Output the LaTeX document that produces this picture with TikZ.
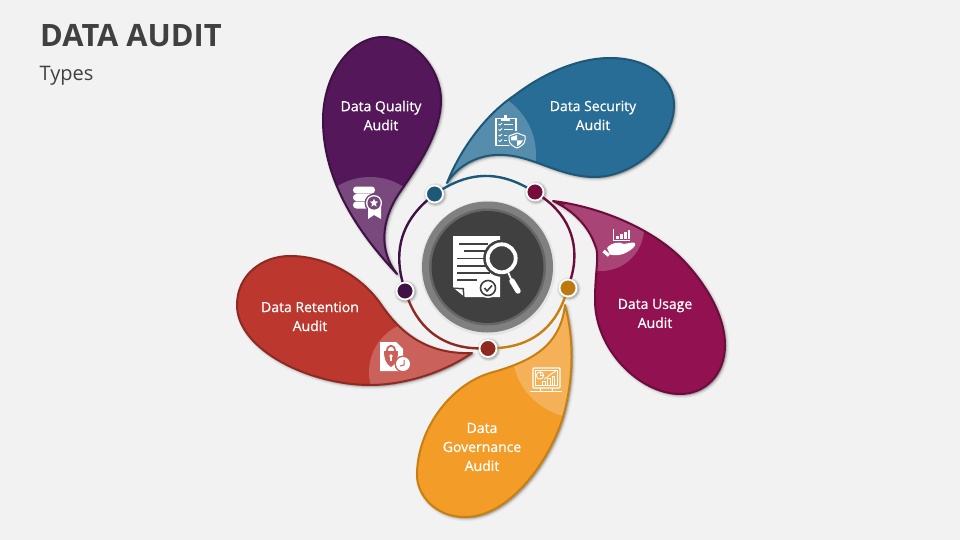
\documentclass[tikz,border=0pt]{standalone}
\usepackage{fontspec}
\setmainfont{Open Sans}
\newfontfamily\lab[FakeBold=0.7]{Open Sans}
\usetikzlibrary{shapes.geometric}
\definecolor{bg}{HTML}{F2F2F2}
\definecolor{ink}{HTML}{404040}
\definecolor{pf}{HTML}{54175A}\definecolor{pd}{HTML}{3F1144}\definecolor{po}{HTML}{754679}
\definecolor{bf}{HTML}{276D95}\definecolor{bd}{HTML}{1D5877}\definecolor{bo}{HTML}{5A8FAD}
\definecolor{mf}{HTML}{921150}\definecolor{md}{HTML}{6E0D3C}\definecolor{mo}{HTML}{A93F75}
\definecolor{of}{HTML}{F39C28}\definecolor{od}{HTML}{C67F10}\definecolor{oo}{HTML}{E8A850}
\definecolor{rf}{HTML}{BC372D}\definecolor{rd}{HTML}{8F2A22}\definecolor{ro}{HTML}{CC5F57}
\tikzset{
  lbl/.style={text=white,align=center,font=\lab\fontsize{14}{19}\selectfont,inner sep=0},
  dot/.style={circle,draw=white,line width=1.8pt,minimum size=17pt,inner sep=0},
  ringarc/.style={line width=2.4pt},
  ic/.style={white,line width=1.2pt},
}
\newcommand\petal[6]{%
  \begin{scope}[shift={(1.5,1.5)}]
    \path[draw=black,fill=black,line width=6pt,opacity=.03,line join=round] #1;
    \path[draw=black,fill=black,line width=4pt,opacity=.05,line join=round] #1;
    \path[draw=black,fill=black,line width=2pt,opacity=.10,line join=round] #1;
  \end{scope}
  \path[fill=#2] #1;
  \begin{scope}\clip #1; \fill[white,opacity=.22] #4 circle (#5); \end{scope}
  \path[draw=#3,line width=2pt,line join=round] #1;
}
\newcommand\softdot[2]{%
  \fill[black,opacity=.05] (#1+1,#2+1) circle (12);
  \fill[black,opacity=.08] (#1+1,#2+1) circle (11);
  \fill[black,opacity=.12] (#1+1,#2+1) circle (10);
}
\begin{document}
\begin{tikzpicture}[x=1pt,y=-1pt]
\useasboundingbox (0,0) rectangle (960,540);
\fill[bg] (0,0) rectangle (960,540);
% titles
\node[anchor=west,inner sep=0,text=ink,font=\bfseries\fontsize{30.8}{36}\selectfont] (title) at (40,35.5) {DATA AUDIT};
\node[anchor=west,inner sep=0,text=ink,font=\fontsize{20}{24}\selectfont] (sub) at (39.5,76) {Types};
% petals
\petal{(397,274) .. controls (370,245) and (323,190) .. (323,120) .. controls (323,75) and (350,37) .. (383,37) .. controls (415,37) and (441,70) .. (441,100) .. controls (441,135) and (415,170) .. (398,195) .. controls (382,220) and (378,250) .. (397,274) -- cycle}{pf}{pd}{(370,239)}{62}{}
\petal{(447,183) .. controls (460,150) and (485,115) .. (515,95) .. controls (545,72) and (580,58) .. (610,58) .. controls (650,58) and (674,80) .. (674,105) .. controls (674,145) and (630,177) .. (595,177) .. controls (560,177) and (535,157) .. (505,155) .. controls (480,153) and (458,165) .. (447,183) -- cycle}{bf}{bd}{(469,155)}{67}{}
\petal{(553,201) .. controls (600,207) and (650,228) .. (680,257) .. controls (705,282) and (725,315) .. (725,345) .. controls (725,375) and (705,394) .. (680,394) .. controls (640,394) and (595,350) .. (595,300) .. controls (595,270) and (600,255) .. (595,245) .. controls (588,225) and (572,210) .. (553,201) -- cycle}{mf}{md}{(601,228)}{43}{}
\petal{(565,305) .. controls (573,335) and (575,375) .. (563,417) .. controls (550,460) and (510,517) .. (465,517) .. controls (435,517) and (417,495) .. (417,475) .. controls (417,430) and (450,385) .. (490,373) .. controls (525,363) and (560,350) .. (565,305) -- cycle}{of}{od}{(580,350)}{68}{}
\petal{(472,353) .. controls (440,375) and (400,385) .. (370,385) .. controls (310,385) and (237,350) .. (237,305) .. controls (237,275) and (262,256) .. (290,256) .. controls (325,256) and (360,275) .. (380,303) .. controls (395,325) and (420,355) .. (472,353) -- cycle}{rf}{rd}{(420,372)}{51}{}
% labels
\node[lbl] (t1) at (381,115.5) {Data Quality\\Audit};
\node[lbl] (t2) at (593,115.5) {Data Security\\Audit};
\node[lbl] (t3) at (655,313.5) {Data Usage\\Audit};
\node[lbl] (t4) at (482,447) {Data\\Governance\\Audit};
\node[lbl] (t5) at (310,316.5) {Data Retention\\Audit};
% centre disc
\fill[black,opacity=.05] (488,268) circle (67.5);
\fill[color=black!50] (487.5,267) circle (65.5);
\fill[color=black!60] (487.5,267) circle (58.5);
\fill[ink] (487.5,267) circle (56);
% central icon
\fill[white] (453,236) -- (500,236) -- (500,297) -- (465,297) -- (453,287) -- cycle;
\fill[ink] (453,287.5) -- (464.5,297) -- (464,288) -- cycle;
\fill[white] (455,289) -- (462.5,289.5) -- (463,295.5) -- cycle;
\foreach \xa/\xb/\yy in {459/488/244,464/488/251,457/487/258.5,457/487/266,457/490/273,457/477/280}
  \draw[ink,line width=1.8pt] (\xa,\yy) -- (\xb,\yy);
\fill[ink] (501.7,258.3) circle (18.5);
\draw[white,line width=3.8pt,fill=ink] (501.7,258.3) circle (14);
\draw[white,line width=1.8pt] (508,272) -- (511,279);
\draw[white,line width=5.4pt,line cap=round] (512,281) -- (518,291);
\fill[white] (488,288) circle (10);
\draw[ink,line width=1.6pt] (488,288) circle (7.5);
\draw[ink,line width=1.6pt] (484.5,288) -- (487,291) -- (492,285.5);
% icon: database
\foreach \yy in {186.5,194,201.5}
  \fill[white,rounded corners=3.4pt] (353,\yy) rectangle (375,\yy+7);
\fill[po] (374,203) circle (9.5);
\fill[white] (368,206) -- (368,219) -- (374,215) -- (381,219) -- (381,206) -- cycle;
\fill[white] (374,203) circle (8);
\fill[po] (374,203) circle (6.6);
\node[star,star points=5,star point ratio=2.3,fill=white,minimum size=9pt,inner sep=0] (st) at (374,203) {};
% icon: clipboard
\draw[ic,line join=round] (501,118.5) -- (496,118.5) -- (496,145.5) -- (511,145.5);
\draw[ic] (510,118.5) -- (516,118.5) -- (516,131);
\fill[white] (501,118) rectangle (510,121);
\fill[white] (504,115.5) rectangle (507,118);
\foreach \yy in {124,129.5,135,140.5}{
  \draw[white,line width=.9pt] (498.5,\yy) -- (500,\yy+1) -- (502,\yy-1);
  \draw[white,line width=.9pt] (504,\yy) -- (513,\yy);
}
\fill[bo] (517,131) -- (527,135) -- (527,140) .. controls (527,145) and (521,149) .. (517,150) .. controls (513,149) and (507,145) .. (507,140) -- (507,135) -- cycle;
\draw[white,line width=1pt,line join=round] (517,133) -- (525,136) -- (525,140) .. controls (525,144) and (520,147) .. (517,148) .. controls (514,147) and (509,144) .. (509,140) -- (509,136) -- cycle;
\fill[white] (517,135) -- (517,140.5) -- (511,140.5) -- (511,137) -- cycle;
\fill[white] (517,140.5) -- (523,140.5) .. controls (522,143) and (519,145.5) .. (517,146) -- cycle;
% icon: hand + chart
\draw[white,line width=1pt] (613.5,229) -- (613.5,240) -- (630,240);
\foreach \xx/\yy in {616/236,620/233.5,624/231.5,627.5/229.5}
  \fill[white] (\xx,\yy) rectangle (\xx+2.6,239);
\fill[white] (607,248) .. controls (612,242) and (619,241.5) .. (624,244) -- (632,242.5) .. controls (635.5,242) and (636,245) .. (634,247) .. controls (628,253) and (619,257) .. (610,254.5) -- cycle;
\draw[white,line width=3.4pt] (603.5,251) -- (609,255.5);
% icon: laptop
\draw[white,line width=1.1pt,rounded corners=1pt] (533,368) rectangle (560,388);
\draw[white,line width=.8pt] (535.5,370.5) rectangle (557.5,385.5);
\draw[white,line width=1.2pt] (530,391.5) -- (562,391.5);
\draw[white,line width=.9pt] (540,388) -- (541,391) (553,388) -- (552,391);
\draw[white,line width=.9pt] (540,375.5) circle (3.6);
\draw[white,line width=.8pt] (540,371.9) -- (540,375.5) -- (543.6,375.5);
\draw[white,line width=.8pt] (544,379) -- (547.5,377) -- (551,374) -- (556,371);
\foreach \xx/\yy in {542.5/381,547.5/378.5,552/376}
  \draw[white,line width=.9pt] (\xx,\yy) rectangle (\xx+2.6,385);
% icon: lock document
\fill[white] (380,342) -- (396,342) -- (403,349) -- (403,371) -- (380,371) -- cycle;
\draw[ro,line width=1.8pt] (387,351) .. controls (387,344) and (395,344) .. (395,351);
\fill[ro] (391,367) .. controls (386,364) and (384,359) .. (384,351) -- (398,351) .. controls (398,359) and (396,364) .. (391,367) -- cycle;
\fill[white] (391,356) circle (1.8);
\fill[white] (390.4,356) rectangle (391.6,360.5);
\fill[ro] (403,364) circle (8.5);
\fill[white] (403,364) circle (7);
\draw[ro,line width=1pt] (404,360) -- (404,365) -- (400,366);
% ring nodes
\softdot{434.5}{194}\softdot{535}{192}\softdot{568}{288}\softdot{488}{348.5}\softdot{405}{291}
\node[dot,fill=bd] (nb) at (434.5,194) {};
\node[dot,fill=md!90!purple] (nm) at (535,192) {};
\node[dot,fill=od!95!black] (no) at (568,288) {};
\node[dot,fill=rd] (nr) at (488,348.5) {};
\node[dot,fill=pd] (np) at (405,291) {};
\draw[ringarc,pd] (np) to[bend left=32] (nb);
\draw[ringarc,bd] (nb) to[bend left=30] (nm);
\draw[ringarc,md] (nm) to[bend left=36] (no);
\draw[ringarc,od] (no) to[bend left=34] (nr);
\draw[ringarc,rd] (nr) to[bend left=34] (np);
\end{tikzpicture}
\end{document}
